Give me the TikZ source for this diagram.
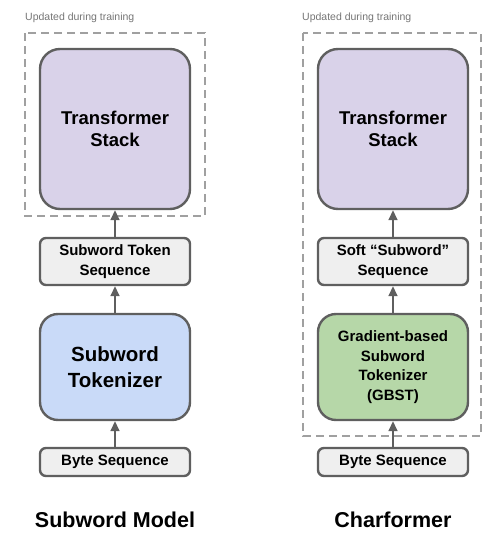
\documentclass[tikz,border=0pt]{standalone}
\usepackage{fontspec}
\setmainfont{Liberation Sans}
\usetikzlibrary{arrows.meta}

\definecolor{boxline}{HTML}{5F5F5F}
\definecolor{dashgray}{HTML}{A0A0A0}
\definecolor{notegray}{HTML}{757575}
\definecolor{purplefill}{HTML}{D9D2E9}
\definecolor{bluefill}{HTML}{C9DAF8}
\definecolor{greenfill}{HTML}{B6D7A8}
\definecolor{seqfill}{HTML}{EFEFEF}

\tikzset{
    block/.style={draw=boxline,line width=2.4pt,align=center,font=\bfseries,
        minimum width=150pt,inner sep=0pt},
    stackbox/.style={block,fill=purplefill,minimum height=160pt,rounded corners=20pt,
        font=\fontsize{18.5}{22}\selectfont\bfseries},
    tokbox/.style={block,minimum height=106pt,rounded corners=18pt},
    seqbox/.style={block,fill=seqfill,rounded corners=6pt,
        font=\fontsize{15}{19.5}\selectfont\bfseries},
    trainbox/.style={draw=dashgray,line width=1.8pt,dash pattern=on 8pt off 5pt},
    flow/.style={draw=boxline,line width=1.6pt,-{Triangle[length=10pt,width=9pt]}},
    note/.style={anchor=base west,text=notegray,font=\fontsize{10.5}{12}\selectfont,inner sep=0pt},
    caption/.style={font=\fontsize{21.5}{24}\selectfont\bfseries,inner sep=0pt}
}

\begin{document}
\begin{tikzpicture}[x=1pt,y=-1pt]
        \useasboundingbox (0,0) rectangle (483,544);

        % the parts that are updated during training
        \draw[trainbox] (25,33) rectangle (205,216);
        \draw[trainbox] (303,33) rectangle (481,436);
        \node[note] (noteA) at (25,20) {Updated during training};
        \node[note] (noteB) at (302,20) {Updated during training};

        % subword model
        \node[stackbox] (stackA) at (115,129) {Transformer\\Stack};
        \node[seqbox,minimum height=47pt] (seqA) at (115,261.5) {Subword Token\\Sequence};
        \node[tokbox,fill=bluefill,font=\fontsize{20.5}{26}\selectfont\bfseries]
            (tokA) at (115,367) {Subword\\Tokenizer};
        \node[seqbox,minimum height=28pt] (byteA) at (115,462) {Byte Sequence};
        \node[caption] (capA) at (115,520) {Subword Model};

        % charformer
        \node[stackbox] (stackB) at (393,129) {Transformer\\Stack};
        \node[seqbox,minimum height=47pt] (seqB) at (393,261.5) {Soft “Subword”\\Sequence};
        \node[tokbox,fill=greenfill,font=\fontsize{15}{19.5}\selectfont\bfseries]
            (tokB) at (393,367) {Gradient-based\\Subword\\Tokenizer\\(GBST)};
        \node[seqbox,minimum height=28pt] (byteB) at (393,462) {Byte Sequence};
        \node[caption] (capB) at (393,520) {Charformer};

        % arrows between the blocks
        \foreach \col in {A,B} {
                \draw[flow] (byte\col) -- (tok\col);
                \draw[flow] (tok\col) -- (seq\col);
                \draw[flow] (seq\col) -- (stack\col);
        }
\end{tikzpicture}
\end{document}
